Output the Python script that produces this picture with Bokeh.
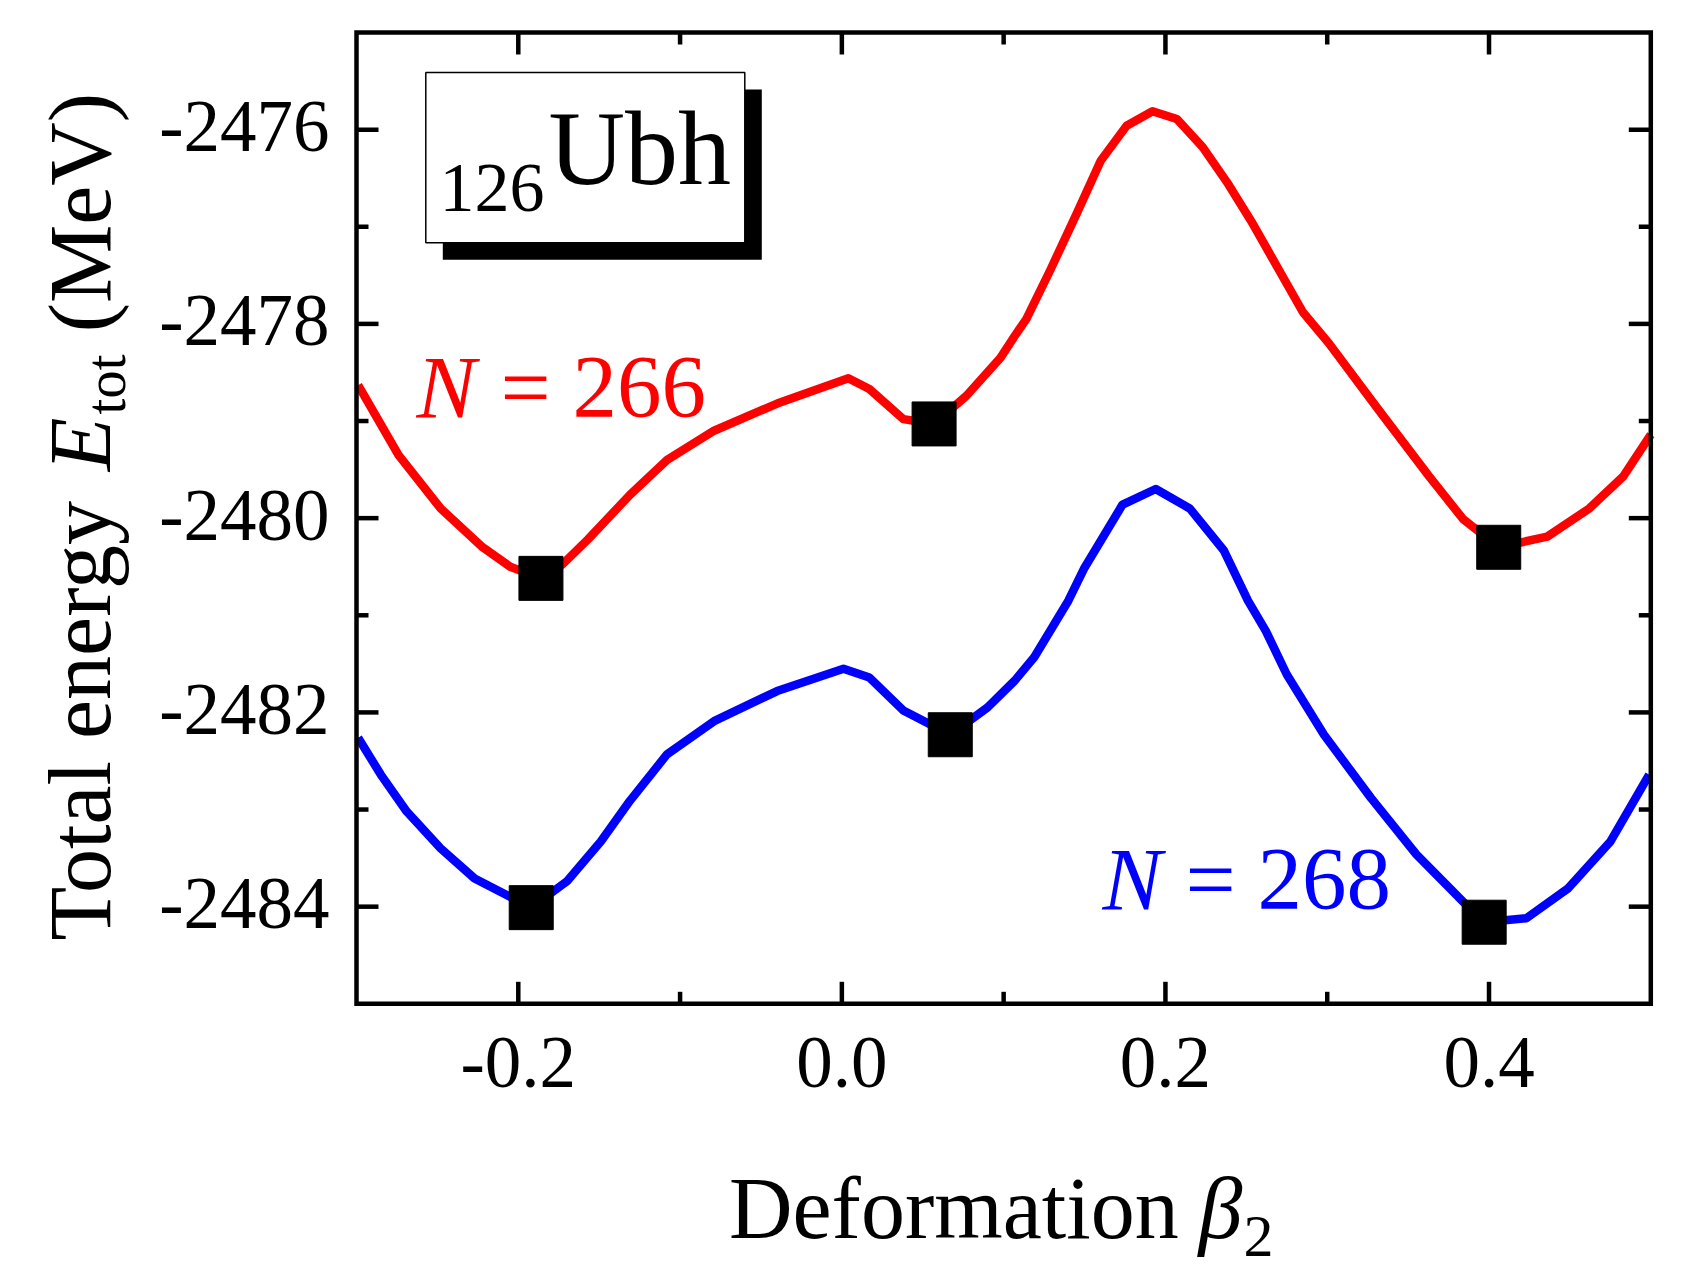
import math
from bokeh.plotting import figure
from bokeh.models import Label, Range1d
from bokeh.core.properties import value
from bokeh.embed import file_html
from bokeh.resources import INLINE

# ---------------- data ----------------
beta_266 = [-0.299, -0.274, -0.248, -0.222, -0.205, -0.186, -0.173, -0.157, -0.131, -0.108,
            -0.079, -0.040, 0.004, 0.017, 0.038, 0.057, 0.077, 0.098, 0.107, 0.114,
            0.129, 0.145, 0.160, 0.176, 0.192, 0.207, 0.223, 0.238, 0.254, 0.270,
            0.285, 0.301, 0.332, 0.363, 0.384, 0.406, 0.436, 0.462, 0.483, 0.500]
e_266 = [-2478.63, -2479.35, -2479.90, -2480.30, -2480.50, -2480.62, -2480.48, -2480.22, -2479.76, -2479.40,
         -2479.10, -2478.82, -2478.56, -2478.67, -2478.98, -2479.03, -2478.74, -2478.35, -2478.12, -2477.95,
         -2477.44, -2476.87, -2476.32, -2475.96, -2475.81, -2475.89, -2476.18, -2476.54, -2476.97, -2477.44,
         -2477.88, -2478.20, -2478.89, -2479.57, -2480.01, -2480.30, -2480.19, -2479.90, -2479.57, -2479.14]

beta_268 = [-0.299, -0.285, -0.269, -0.248, -0.227, -0.192, -0.170, -0.149, -0.131, -0.108,
            -0.079, -0.040, 0.001, 0.017, 0.038, 0.067, 0.090, 0.107, 0.119, 0.140,
            0.150, 0.1735, 0.194, 0.215, 0.236, 0.251, 0.262, 0.275, 0.298, 0.327,
            0.355, 0.384, 0.397, 0.423, 0.449, 0.475, 0.499]
e_268 = [-2482.26, -2482.64, -2483.02, -2483.40, -2483.71, -2484.01, -2483.74, -2483.33, -2482.91, -2482.43,
         -2482.09, -2481.78, -2481.55, -2481.64, -2481.98, -2482.23, -2481.95, -2481.67, -2481.43, -2480.85,
         -2480.51, -2479.86, -2479.70, -2479.90, -2480.33, -2480.85, -2481.16, -2481.61, -2482.23, -2482.88,
         -2483.46, -2483.95, -2484.16, -2484.12, -2483.81, -2483.33, -2482.64]

min_beta_266 = [-0.186, 0.057, 0.406]
min_e_266 = [-2480.62, -2479.03, -2480.30]
min_beta_268 = [-0.192, 0.067, 0.397]
min_e_268 = [-2484.01, -2482.23, -2484.16]

x_lim = [-0.3, 0.5]
y_lim = [-2485, -2475]
x_major = [-0.2, 0.0, 0.2, 0.4]
x_minor = [-0.1, 0.1, 0.3]
y_major = [-2484, -2482, -2480, -2478, -2476]
y_minor = [-2483, -2481, -2479, -2477]
x_tick_labels = [f"{v:.1f}" for v in x_major]
y_tick_labels = [f"{v:d}" for v in y_major]

x_title = "Deformation"
x_title_sym = "β"
x_title_sub = "2"
y_title_a = "Total energy"
y_title_sym = "E"
y_title_sub = "tot"
y_title_b = "(MeV)"
label_266 = ["N", "=", "266"]
label_268 = ["N", "=", "268"]
element_z = "126"
element_sym = "Ubh"

# ---------------- layout (pixel geometry of the page) ----------------
W, H = 1692, 1283
BOX_L, BOX_R, BOX_T, BOX_B = 356.0, 1650.3, 32.0, 1003.3
X0, X1 = x_lim
Y0, Y1 = y_lim
PXU = (BOX_R - BOX_L) / (X1 - X0)      # pixels per unit of beta
PYU = (BOX_B - BOX_T) / (Y1 - Y0)      # pixels per MeV
XL = X0 - BOX_L / PXU
XR = X0 + (W - BOX_L) / PXU
YT = Y1 + BOX_T / PYU
YB = Y0 - (H - BOX_B) / PYU
FONT = "Liberation Serif"
MID = 0.3375   # distance baseline -> text middle, in em

p = figure(width=W, height=H, x_range=Range1d(XL, XR), y_range=Range1d(YB, YT),
           min_border=0, min_border_left=0, min_border_right=0,
           min_border_top=0, min_border_bottom=0,
           x_axis_location=None, y_axis_location=None,
           output_backend="svg", toolbar_location=None)
p.xgrid.visible = False
p.ygrid.visible = False
p.outline_line_color = None
p.background_fill_color = "white"
p.border_fill_color = "white"


def dx(sx):
    return XL + sx / PXU


def dy(sy):
    return YT - sy / PYU


# ---------------- curves and minima ----------------
p.line(beta_266, e_266, line_color="#ff0000", line_width=8.5, line_join="round")
p.line(beta_268, e_268, line_color="#0000ff", line_width=8.5, line_join="round")
p.scatter(min_beta_266, min_e_266, marker="square", size=44, fill_color="black", line_color="black")
p.scatter(min_beta_268, min_e_268, marker="square", size=44, fill_color="black", line_color="black")

# ---------------- plot frame and ticks (through the data scales) ----------------
LW = 4.5
MAJ, MIN = 22.0, 12.0
p.quad(left=X0, right=X1, bottom=Y0, top=Y1, fill_color=None, line_color="black",
       line_width=LW, line_join="miter")

n, m = len(x_major), len(x_minor)
p.segment(x0=x_major, x1=x_major, y0=[Y0] * n, y1=[Y0 + MAJ / PYU] * n, line_color="black", line_width=LW)
p.segment(x0=x_major, x1=x_major, y0=[Y1] * n, y1=[Y1 - MAJ / PYU] * n, line_color="black", line_width=LW)
p.segment(x0=x_minor, x1=x_minor, y0=[Y0] * m, y1=[Y0 + MIN / PYU] * m, line_color="black", line_width=LW)
p.segment(x0=x_minor, x1=x_minor, y0=[Y1] * m, y1=[Y1 - MIN / PYU] * m, line_color="black", line_width=LW)

n, m = len(y_major), len(y_minor)
p.segment(x0=[X0] * n, x1=[X0 + MAJ / PXU] * n, y0=y_major, y1=y_major, line_color="black", line_width=LW)
p.segment(x0=[X1] * n, x1=[X1 - MAJ / PXU] * n, y0=y_major, y1=y_major, line_color="black", line_width=LW)
p.segment(x0=[X0] * m, x1=[X0 + MIN / PXU] * m, y0=y_minor, y1=y_minor, line_color="black", line_width=LW)
p.segment(x0=[X1] * m, x1=[X1 - MIN / PXU] * m, y0=y_minor, y1=y_minor, line_color="black", line_width=LW)

# tick labels (vertically centred on the digits)
p.text(x=x_major, y=[Y0 - 58.4 / PYU] * len(x_major), text=x_tick_labels,
       text_font=value(FONT), text_font_size="73px", text_color="black",
       text_align="center", text_baseline="middle")
p.text(x=[X0 - 27.0 / PXU] * len(y_major), y=[v + 3.1 / PYU for v in y_major], text=y_tick_labels,
       text_font=value(FONT), text_font_size="73px", text_color="black",
       text_align="right", text_baseline="middle")

# ---------------- element box with shadow ----------------
bx_l, bx_r, bx_t, bx_b = 425.3, 744.3, 72.0, 242.3
sh = 17
p.quad(left=dx(bx_l + sh), right=dx(bx_r + sh), top=dy(bx_t + sh), bottom=dy(bx_b + sh),
       fill_color="black", line_color=None)
p.quad(left=dx(bx_l), right=dx(bx_r), top=dy(bx_t), bottom=dy(bx_b),
       fill_color="white", line_color="black", line_width=1.5)


def lab(sx, baseline, text, size, color="black", style="normal", angle=0.0):
    """Place text whose alphabetic baseline lies at pixel 'baseline' (rotated: baseline x)."""
    if angle == 0.0:
        px, py = sx, baseline - MID * size
    else:
        px, py = baseline - MID * size, sx
    p.add_layout(Label(x=dx(px), y=dy(py), text=text, text_font=FONT,
                       text_font_size=f"{size}px", text_color=color,
                       text_font_style=style, text_align="left",
                       text_baseline="middle", angle=angle))


lab(439, 211.4, element_z, 70)
lab(548, 183.4, element_sym, 106)

# N labels
lab(416, 416.5, label_266[0], 89, "#ff0000", "italic")
lab(500, 416.5, label_266[1], 89, "#ff0000")
lab(572, 416.5, label_266[2], 89, "#ff0000")
lab(1102, 908.3, label_268[0], 89, "#0000ff", "italic")
lab(1185, 908.3, label_268[1], 89, "#0000ff")
lab(1257, 908.3, label_268[2], 89, "#0000ff")

# x-axis title
lab(728.5, 1238, x_title, 88)
lab(1198, 1238, x_title_sym, 88, style="italic")
lab(1243, 1256, x_title_sub, 60)

# y-axis title (rotated, reads bottom to top)
ang = math.pi / 2
base_x = 109.3
y_start = 940.0
SP = 0.25 * 88
lab(y_start, base_x, y_title_a, 88, angle=ang)
y_e = y_start - 5.082 * 88 - SP
lab(y_e, base_x, y_title_sym, 88, style="italic", angle=ang)
y_sub = y_e - 0.611 * 88 - 3
lab(y_sub, base_x + 15, y_title_sub, 57, angle=ang)
y_b = y_sub - 1.056 * 57 - SP
lab(y_b, base_x, y_title_b, 88, angle=ang)

open("out.html", "w").write(file_html(p, INLINE))
